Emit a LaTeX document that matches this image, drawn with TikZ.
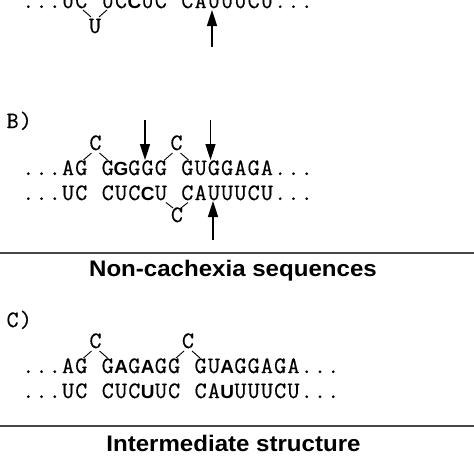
\documentclass[tikz,border=0pt]{standalone}
\usepackage{fontspec}
\usepackage{graphicx}
\setmonofont{Latin Modern Mono}[FakeBold=0.5]
\newfontfamily\bsansfam{Liberation Sans}
\usetikzlibrary{arrows.meta,calc}
\newlength\pw \setlength\pw{13.26pt}
\newcommand\bs[1]{{\bsansfam\bfseries\fontsize{19}{20}\selectfont #1}}
\def\seqline#1{\seqstep#1\relax}
\def\seqstep#1{\ifx\relax#1\else\ifx_#1\hbox to\pw{}\else\hbox to\pw{\hss#1\hss}\fi\expandafter\seqstep\fi}
\tikzset{
  seq/.style={font=\fontsize{23.5}{25}\selectfont\ttfamily, inner sep=0pt, outer sep=0pt},
  looptext/.style={seq, anchor=base},
  rowtext/.style={seq, anchor=base west},
  loopline/.style={line width=0.9pt},
  cutarrow/.style={line width=1.6pt, -{Triangle[length=16pt,width=10pt]}},
  rulebar/.style={line width=1.4pt, black!72},
  heading/.style={font=\bsansfam\bfseries\fontsize{22.5}{26}\selectfont, inner sep=0pt, anchor=base}
}
\begin{document}
\begin{tikzpicture}[x=1pt,y=-1pt]
\useasboundingbox (0,0) rectangle (474,474);
% ---- A (continued) ----
\node[rowtext] (a2) at (21.67,8) {\seqline{...UC_UC{\bs C}UC_CAUUUCU...}};
\node[looptext] (au) at (95,33) {U};
\draw[loopline] ($(au.base)+(-12,-23)$) -- ($(au.base)+(-4,-16)$);
\draw[loopline] ($(au.base)+(4,-16)$) -- ($(au.base)+(12,-23)$);
\coordinate (aarT) at (212,47);
\coordinate (aarH) at (212,10);
\draw[cutarrow] (aarT) -- (aarH);
% ---- B ----
\node[rowtext] (blab) at (6,128) {\seqline{B)}};
\node[rowtext] (b1) at (21.67,175) {\seqline{...AG_G{\bs G}GGG_GUGGAGA...}};
\node[rowtext] (b2) at (21.67,200) {\seqline{...UC_CUC{\bs C}U_CAUUUCU...}};
\node[looptext] (bc1) at (95.5,150) {C};
\node[looptext] (bc2) at (176.5,150) {C};
\node[looptext] (bc3) at (177,222) {C};
\foreach \n in {bc1,bc2}{
  \draw[loopline] ($(\n.base)+(-4,3)$) -- ($(\n.base)+(-12,10)$);
  \draw[loopline] ($(\n.base)+(4,3)$) -- ($(\n.base)+(12,10)$);
}
\draw[loopline] ($(bc3.base)+(-4,-14)$) -- ($(bc3.base)+(-11,-19.5)$);
\draw[loopline] ($(bc3.base)+(4,-14)$) -- ($(bc3.base)+(11,-19.5)$);
\coordinate (bd1T) at (145,120);
\coordinate (bd1H) at (145,160);
\coordinate (bd2T) at (210.5,120);
\coordinate (bd2H) at (210.5,160);
\coordinate (buT) at (213,240);
\coordinate (buH) at (213,201);
\draw[cutarrow] (bd1T) -- (bd1H);
\draw[cutarrow] (bd2T) -- (bd2H);
\draw[cutarrow] (buT) -- (buH);
% ---- rule + heading ----
\draw[rulebar] (0,253) -- (474,253);
\node[heading] (h1) at (233,276.5) {\scalebox{1.07}[1]{Non-cachexia sequences}};
% ---- C ----
\node[rowtext] (clab) at (6,327) {\seqline{C)}};
\node[rowtext] (c1) at (21.67,373) {\seqline{...AG_G{\bs A}G{\bs A}GG_GU{\bs A}GGAGA...}};
\node[rowtext] (c2) at (21.67,398) {\seqline{...UC_CUC{\bs U}UC_CA{\bs U}UUUCU...}};
\node[looptext] (cc1) at (95.5,348) {C};
\node[looptext] (cc2) at (188,348) {C};
\foreach \n in {cc1,cc2}{
  \draw[loopline] ($(\n.base)+(-4,3)$) -- ($(\n.base)+(-12,10)$);
  \draw[loopline] ($(\n.base)+(4,3)$) -- ($(\n.base)+(12,10)$);
}
% ---- rule + heading ----
\draw[rulebar] (0,426) -- (474,426);
\node[heading] (h2) at (233.5,451) {\scalebox{1.07}[1]{Intermediate structure}};
\end{tikzpicture}
\end{document}
